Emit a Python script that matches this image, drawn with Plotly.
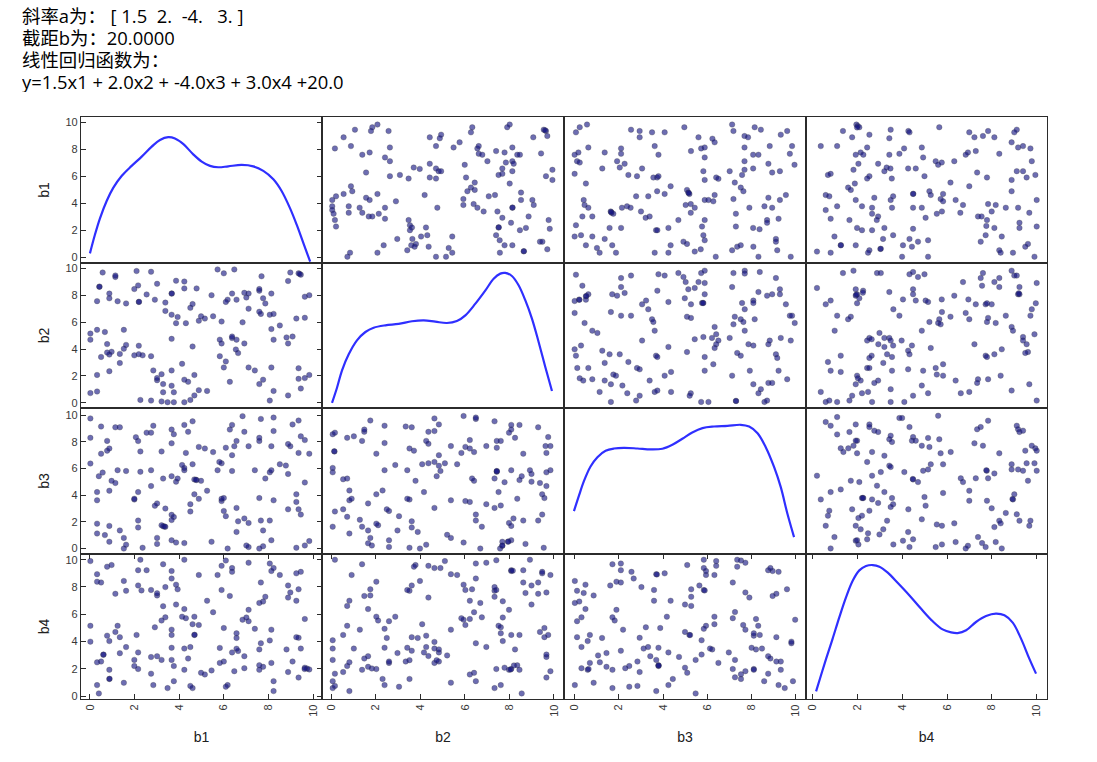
import plotly.graph_objects as go

names = ["b1", "b2", "b3", "b4"]
tick_vals = [0, 2, 4, 6, 8, 10]
header_lines = ["斜率a为： [ 1.5  2.  -4.   3. ]", "截距b为：20.0000", "线性回归函数为：", "y=1.5x1 + 2.0x2 + -4.0x3 + 3.0x4 +20.0"]

# scatter pairs
p12_b2 = [2.07,1.84,1.78,1.06,2.57,.55,.88,.16,2.63,1.39,1.72,2.41,2.63,1.56,2.63,3.08,3.47,3.70,3.97,4.42,4.70,4.82,4.93,4.42,4.70,4.42,4.93,4.87,4.70,5.49,5.76,6.33,6.27,6.56,6.62,6.62,6.78,7.01,5.99,6.05,6.44,6.27,6.11,6.44,5.93,5.93,6.39,6.56,6.84,7.07,7.35,4.19,2.90,2.07,1.56,1.72,.88,.94,.55,.21,.04,.04,.04,.10,.16,.21,.78,.78,1.27,1.39,1.68,1.84,2.13,2.41,2.41,4.76,3.47,3.53,3.62,3.53,4.25,4.31,4.03,2.96,3.64,3.80,3.59,3.74,3.41,2.35,2.07,.84,.72,4.37,5.43,5.27,5.43,5.15,4.70,8.01,7.90,7.40,7.78,8.13,8.35,8.47,9.42,9.07,9.54,9.64,9.70,9.93,9.64,9.93,8.13,7.84,8.19,7.68,7.68,7.51,8.13,8.01,8.52,8.52,9.03,9.09,8.13,7.46,7.68,8.07,8.86,9.76,9.81,8.74,8.47,7.51,7.40,7.56,7.78,8.13,7.57,8.64,9.37,9.48,9.70,8.14,7.52,8.65,9.60]
p12_b1 = [9.83,9.63,9.35,9.45,9.35,8.88,8.23,8.06,8.13,7.59,7.76,7.39,7.11,6.27,6.00,6.09,5.82,6.64,6.54,6.92,6.57,6.37,6.37,5.90,5.82,8.88,9.08,8.81,8.23,8.13,8.51,9.63,9.25,8.06,8.23,7.66,7.59,7.11,6.84,5.90,5.52,5.15,4.88,4.98,4.30,3.86,3.93,3.66,3.38,4.50,4.60,4.60,4.13,4.68,4.40,4.23,5.25,4.88,4.68,4.50,4.23,3.76,3.48,3.21,2.74,2.26,3.76,3.28,3.66,3.28,3.01,3.01,3.21,3.66,2.84,3.66,2.74,2.36,2.19,1.99,2.19,1.62,1.52,1.34,1.34,.97,.87,.77,.50,.87,.32,.32,.02,.77,1.52,.67,.32,.02,.02,9.83,9.63,7.86,7.76,8.13,7.59,7.59,7.69,8.88,9.45,9.35,8.98,6.47,6.00,5.72,7.11,7.01,6.92,6.57,6.17,6.09,6.37,5.45,4.78,4.23,4.23,3.86,3.66,3.38,2.91,2.54,3.01,2.74,2.09,2.16,1.99,2.19,1.62,1.24,.87,.87,.32,.42,1.14,1.14,.57,3.67,2.20,.43,9.40]

p13_b3 = [.56,.23,.06,.62,.17,0,.11,.23,0,1.25,1.36,2.10,2.10,1.92,2.26,2.04,2.43,2.82,3.05,2.55,2.94,2.94,3.50,4.07,3.62,3.79,4.96,5.60,6.23,6.33,5.26,5.72,5.88,5.88,5.82,5.88,3.56,3.73,3.79,4.34,3.73,4.07,3.33,2.78,5.08,5.14,5.19,6.40,6.50,6.33,5.88,6.05,6.27,5.02,5.25,5.43,5.25,4.69,5.88,5.76,5.82,5.88,4.92,5.08,5.70,5.43,6.38,4.34,4.24,3.62,4.24,3.68,3.74,3.39,3.21,3.00,2.53,2.37,2.14,1.63,1.67,1.75,.41,.45,.62,.51,.35,.80,.06,0,.29,.80,1.58,2.10,1.36,.51,1.01,1.13,1.70,1.87,7.12,7.18,7.68,7.84,8.14,8.42,9.32,9.61,9.83,9.73,9.94,8.82,7.68,8.07,8.31,7.68,8.76,7.68,8.07,7.57,7.01,7.24,8.93,9.28,7.51,7.63,7.18,8.76,9.55,9.28,8.58,8.93,7.90,7.29,8.70,8.70,9.22,7.29,8.07,8.36,9.10,9.10,9.16,8.08,8.31,9.77,7.12,7.35,7.51,1.65,5.16]
p13_b1 = [9.83,9.63,9.25,8.13,7.76,7.59,7.11,7.01,6.17,6.57,7.76,8.06,7.66,7.11,6.92,6.64,6.09,6.00,6.57,9.45,9.35,8.88,9.25,9.25,8.23,7.59,9.63,8.88,8.78,8.51,7.86,8.06,8.13,7.39,6.37,5.72,5.90,5.90,6.00,5.25,4.88,4.68,4.50,4.50,4.98,4.78,4.68,5.90,5.80,4.60,4.23,4.23,4.13,3.86,3.93,3.66,3.28,2.74,2.74,2.26,1.62,1.24,1.14,.97,.57,.40,.02,.87,.32,.32,2.16,1.99,1.99,3.01,2.91,3.38,3.66,3.76,3.66,3.38,3.28,3.21,4.23,3.86,3.66,5.45,3.01,3.01,2.36,1.52,1.62,1.52,2.16,2.16,1.34,.87,.67,.32,.87,.32,9.83,9.35,8.98,8.88,9.63,9.45,9.08,9.35,8.23,7.66,6.84,8.23,8.13,7.59,7.59,7.11,6.92,6.47,6.57,6.09,6.37,5.52,6.27,6.37,5.15,4.88,4.30,4.40,4.60,4.23,3.76,3.66,3.66,3.21,2.74,2.54,2.84,2.26,2.16,2.06,1.34,1.14,.50,.77,.02,.02,.50,.77,.87,3.34,4.75]

p14_b4 = [1.95,2.01,2.08,1.35,2.53,1.76,.36,1.09,2.43,2.14,1.92,2.26,2.04,1.82,.80,.68,2.53,2.43,1.88,1.58,1.70,.58,.74,1.92,2.75,1.09,.58,2.20,2.65,2.65,.80,1.64,2.92,2.86,1.98,2.20,2.65,3.20,.97,1.25,1.92,.19,.80,2.53,2.47,3.02,3.14,3.59,3.48,3.42,3.42,2.92,3.30,3.47,3.20,3.53,3.59,3.48,3.54,4.27,4.32,4.08,3.87,4.87,4.93,5.65,5.49,5.60,5.76,6.32,4.26,4.60,4.99,6.15,4.48,5.21,5.27,5.82,5.71,5.82,4.48,4.87,6.38,6.71,6.59,5.77,5.54,5.04,4.48,4.32,4.70,5.15,4.03,4.43,3.99,5.15,6.99,7.22,7.60,7.83,8.11,9.11,9.00,8.88,9.17,9.39,9.72,7.28,6.93,6.83,8.33,9.78,9.11,9.39,9.55,9.94,7.34,7.78,8.88,6.99,8.88,10.00,7.83,8.17,8.62,9.17,7.99,9.67,7.38,7.54,7.78,9.23,9.23,10.00,8.11,7.75,7.72,8.44,7.50,9.61,9.49,8.33,8.39,8.94,9.90,1.26,3.04,4.49,1.98]
p14_b1 = [9.83,9.73,9.63,9.35,9.08,8.88,8.23,8.23,8.13,7.76,7.59,7.59,6.92,6.47,6.17,6.09,6.00,5.82,5.45,5.15,4.98,4.60,4.50,4.23,4.40,3.76,3.48,3.76,3.66,3.21,2.84,2.74,3.01,2.74,2.16,1.99,1.99,2.16,1.52,.87,.87,.40,.32,.50,.32,.60,1.34,1.62,9.45,8.81,7.59,6.92,6.64,6.57,6.37,5.82,4.50,4.23,3.66,9.35,9.25,8.06,7.66,8.13,7.39,9.63,7.11,6.84,7.01,7.11,6.57,6.57,6.00,5.52,4.68,4.88,4.60,4.68,4.30,4.13,3.66,3.66,4.23,3.86,3.28,3.38,3.21,2.91,2.09,1.34,1.14,1.24,.87,.77,.02,.02,9.25,8.88,8.98,9.35,8.88,9.45,9.25,8.51,8.13,8.23,8.06,7.86,7.76,7.59,7.66,7.11,6.37,6.37,5.90,6.09,6.27,5.90,5.72,5.25,4.88,4.23,3.93,3.86,3.66,3.66,3.38,3.28,3.01,3.01,2.74,2.54,2.16,2.26,2.16,2.31,1.62,1.52,1.14,.97,.77,.50,.32,.32,.02,.88,.61,4.69,9.62]

p23_b3 = [.06,.35,0,.20,.51,.51,.62,0,.45,.80,1.03,2.10,2.55,2.10,2.26,1.70,1.92,1.64,2.10,2.55,3.05,3.23,3.33,3.79,4.07,3.74,4.24,3.50,3.56,3.62,3.05,4.24,4.69,4.92,5.02,5.14,5.43,5.60,5.72,5.88,5.88,5.88,4.98,5.26,5.76,5.82,5.08,5.26,6.33,6.40,6.21,6.50,6.40,6.33,5.82,5.43,5.08,5.88,6.27,5.88,3.68,3.74,4.36,4.07,3.39,2.82,2.94,2.43,2.04,1.58,1.25,1.36,1.75,1.87,1.36,1.64,2.16,1.13,2.38,2.94,2.78,1.64,0,.29,.06,.12,.62,.23,.39,.80,3.62,3.74,4.36,5.25,5.20,5.72,6.05,7.18,7.69,7.69,8.37,9.10,7.12,9.28,9.28,8.93,8.70,8.31,7.57,8.08,8.08,7.69,9.55,9.73,9.83,9.95,7.24,7.18,7.51,7.63,8.14,7.69,7.01,7.86,8.08,8.82,8.76,9.32,9.77,7.35,7.51,9.10,9.16,7.92,9.22,7.12,9.61,8.08,8.76,8.93,8.42,8.31,7.29,8.58,8.70,7.30,.22,.53,5.80]
p23_b2 = [9.54,8.72,7.58,7.68,7.68,7.93,8.08,6.69,5.94,5.37,5.20,9.29,9.47,8.62,8.18,8.08,7.98,6.76,6.49,6.49,7.33,7.61,6.96,9.57,9.47,8.35,7.51,6.22,6.02,5.37,4.63,4.16,9.66,9.37,8.99,8.45,8.55,8.99,9.66,9.84,8.92,8.08,7.78,7.33,7.43,7.43,6.41,6.32,5.65,5.10,4.83,4.63,4.36,4.08,4.90,4.73,3.78,3.41,2.87,2.39,3.51,3.41,2.30,2.02,1.65,2.59,2.49,3.04,3.61,3.61,3.88,2.97,2.10,2.02,1.65,1.38,1.28,.81,.71,.53,.16,.06,3.98,4.26,3.51,2.59,2.59,1.82,1.65,1.75,.81,.91,.81,.71,.53,.06,.06,9.66,9.84,9.62,9.74,9.29,8.62,8.45,8.08,8.08,7.98,8.25,7.43,7.61,7.43,6.96,7.33,6.49,6.49,5.94,6.41,5.84,6.22,6.02,6.22,5.37,4.83,4.36,4.26,4.63,4.36,4.83,4.63,3.71,3.51,3.61,3.34,2.39,2.39,2.02,1.75,1.38,1.48,1.48,1.01,.71,.14,.06,.16,.13,7.68,7.95,7.43]

p24_b4 = [.19,1.35,1.82,2.87,3.04,1.92,1.92,1.98,2.25,2.08,1.98,.80,.58,1.09,1.70,1.58,.98,3.42,4.03,3.60,3.87,2.98,2.53,2.43,2.63,3.20,3.42,3.48,2.93,3.20,3.59,3.97,4.43,4.26,4.32,3.32,3.54,2.63,2.53,1.25,.68,3.15,2.43,2.53,.80,1.25,3.54,4.26,1.98,2.02,2.14,2.92,2.75,1.92,.36,1.76,2.20,2.47,3.48,.58,.74,1.09,1.64,2.65,3.48,4.09,4.48,4.87,5.15,4.32,4.48,4.70,4.99,4.48,4.48,4.60,5.04,5.15,5.76,6.32,5.77,6.15,5.21,5.65,5.60,5.71,4.87,5.27,4.93,5.49,5.82,5.54,5.82,6.38,6.71,7.60,7.50,7.56,8.11,8.33,8.33,8.88,9.00,9.11,9.23,9.17,9.23,10.00,6.95,7.28,7.72,7.78,7.99,6.83,6.99,7.83,7.78,8.17,8.62,9.96,9.78,9.72,8.88,8.94,9.90,9.39,9.39,9.55,7.22,8.44,9.61,9.49,8.11,7.72,7.78,8.39,7.83,7.38,7.34,6.99,6.61,8.88,9.67,10.00,1.94,2.24,9.20]
p24_b2 = [8.55,9.66,9.84,9.66,9.66,8.45,7.98,8.08,8.35,7.78,7.41,7.61,7.33,6.49,6.41,6.22,5.37,8.25,7.70,6.96,6.49,5.20,4.83,4.63,4.73,4.83,4.83,4.63,4.36,4.16,4.26,4.63,4.26,3.88,3.61,3.61,3.41,3.51,3.34,3.51,3.04,2.97,2.59,2.59,2.39,2.30,2.39,2.49,2.02,1.82,1.65,1.65,1.48,1.38,.81,.53,.71,.81,1.01,.06,.16,.06,.16,.06,.06,.06,.53,1.28,.71,9.57,9.74,9.37,9.57,8.45,8.08,7.61,7.61,7.51,7.70,7.98,6.76,6.41,6.02,6.22,5.94,5.84,5.37,4.08,2.39,2.59,2.87,2.10,2.02,1.65,8.99,9.66,9.29,8.72,8.99,9.29,8.62,9.84,9.47,9.47,8.62,8.08,8.08,8.92,7.70,7.33,7.33,7.41,7.33,6.69,6.22,6.32,6.02,5.94,6.49,7.41,6.96,6.49,5.65,5.37,5.10,4.90,4.63,4.36,4.36,3.98,3.78,3.71,3.61,3.51,3.41,2.02,1.75,1.75,1.48,.81,.71,.91,1.38,.16,8.05,8.20,8.15]

p34_b4 = [1.09,.58,.80,1.92,2.53,2.53,2.75,2.92,1.64,1.09,1.98,1.92,3.42,3.48,3.54,1.82,1.59,1.25,1.37,1.98,2.65,3.20,2.43,3.42,3.48,3.04,2.65,.19,1.70,2.08,2.87,1.25,.80,3.20,.36,2.20,2.26,2.65,2.92,3.54,3.59,3.48,1.76,2.53,.74,.68,2.20,2.04,3.32,.58,1.92,2.14,3.15,2.47,2.98,.97,1.92,2.43,2.04,.80,3.60,3.87,3.99,4.32,4.48,4.43,4.60,5.15,4.87,5.21,5.65,5.60,5.71,6.16,5.82,5.27,5.15,4.93,4.09,4.48,4.70,5.82,4.99,5.04,4.27,4.87,5.54,5.77,6.32,4.26,4.48,4.03,4.32,5.49,5.77,6.38,7.83,7.50,7.34,7.22,7.60,8.33,9.11,9.17,9.23,9.39,9.78,9.94,10.00,9.49,8.88,8.88,9.17,9.39,9.55,9.90,10.00,9.61,7.77,8.11,7.83,7.28,6.61,6.71,6.99,6.99,7.78,7.99,9.00,8.94,8.62,9.11,9.23,9.72,9.67,8.33,8.39,8.11,7.38,7.56,7.72,8.17,8.44,6.93,6.83,4.47,7.75,1.98,2.23,8.92]
p34_b3 = [9.87,9.50,9.22,9.32,9.32,9.12,8.85,8.75,8.75,8.57,8.10,8.10,8.20,8.47,8.00,7.72,7.52,7.52,7.25,7.15,7.25,6.97,6.50,6.22,6.12,5.74,5.47,5.47,5.09,4.99,4.72,4.44,4.24,4.24,3.69,3.79,3.79,3.69,3.42,3.79,3.32,3.12,2.94,2.84,2.84,2.47,2.47,2.29,2.09,1.71,1.71,1.44,1.44,1.14,1.06,.86,.59,.69,.31,.01,.31,9.80,9.80,9.12,8.37,8.10,8.10,8.30,7.72,7.62,8.20,9.97,7.15,7.25,6.32,6.32,5.94,5.84,5.74,5.19,4.99,4.17,3.87,3.22,2.94,2.19,1.81,1.71,1.89,1.24,.69,.59,.11,.11,.31,.49,9.60,9.12,8.95,7.90,7.72,7.15,9.22,8.95,8.75,8.85,7.72,7.52,7.35,7.35,6.32,5.94,5.94,5.84,6.40,6.40,5.84,5.09,5.84,5.64,5.27,5.27,5.27,4.99,4.34,3.59,3.59,3.02,4.07,3.69,2.67,2.57,2.09,2.09,1.71,2.09,1.89,1.61,.86,.41,.11,.49,.01,.21,.01,5.22,5.88,.63,3.80,3.72]

# density curves
kde1_x = [0,.22,.45,.75,1.05,1.42,1.87,2.32,2.77,3.14,3.51,3.81,4.19,4.63,5.01,5.38,5.75,6.20,6.80,7.32,7.77,8.22,8.59,8.97,9.27,9.57,9.87]
kde1_y = [.27,1.63,2.87,4.16,5.15,6.01,6.76,7.45,8.19,8.69,8.89,8.79,8.37,7.62,7.08,6.76,6.66,6.73,6.83,6.73,6.39,5.77,4.90,3.61,2.38,1.01,-.35]
kde2_x = [.03,.25,.48,.78,1.15,1.53,1.90,2.43,3.02,3.62,4.15,4.67,5.19,5.64,6.02,6.47,6.92,7.29,7.59,7.81,8.11,8.41,8.71,9.01,9.31,9.61,9.91]
kde2_y = [-.01,1.10,2.42,3.61,4.65,5.27,5.59,5.77,5.87,6.07,6.14,6.04,5.94,6.09,6.51,7.38,8.37,9.24,9.62,9.67,9.44,8.75,7.64,6.27,4.53,2.67,.88]
kde3_x = [-.03,.20,.42,.72,1.03,1.40,1.78,2.23,2.84,3.44,3.97,4.42,4.87,5.32,5.78,6.30,6.91,7.51,7.89,8.27,8.64,9.02,9.32,9.62,9.92]
kde3_y = [2.81,3.99,5.06,6.16,6.86,7.34,7.51,7.56,7.51,7.44,7.49,7.79,8.24,8.71,9.04,9.16,9.21,9.29,9.16,8.66,7.61,6.11,4.61,2.61,.86]
kde4_x = [.15,.37,.60,.89,1.19,1.49,1.79,2.08,2.38,2.68,2.98,3.35,3.79,4.32,4.84,5.36,5.80,6.18,6.47,6.85,7.29,7.74,8.18,8.56,8.93,9.30,9.67,9.97]
kde4_y = [.34,1.52,2.74,4.21,5.79,7.26,8.48,9.22,9.54,9.61,9.49,9.05,8.31,7.38,6.40,5.48,4.89,4.67,4.62,4.82,5.43,5.87,6.04,5.92,5.38,4.21,2.74,1.64]

pairs = {
    (0, 1): (p12_b2, p12_b1), (0, 2): (p13_b3, p13_b1), (0, 3): (p14_b4, p14_b1),
    (1, 2): (p23_b3, p23_b2), (1, 3): (p24_b4, p24_b2), (2, 3): (p34_b4, p34_b3),
}
curves = [(kde1_x, kde1_y), (kde2_x, kde2_y), (kde3_x, kde3_y), (kde4_x, kde4_y)]

# layout in window pixels
W, H = 1097, 762
col_edges = [81, 322, 564, 806, 1047]
row_edges = [117, 263, 408, 554, 699]
x_ranges = [[-.40, 10.40], [-.42, 10.45], [-.48, 10.46], [-.30, 10.46]]
y_ranges = [[-.445, 10.39], [-.39, 10.41], [-.41, 10.55], [-.22, 10.42]]

FRAME = "#2b2b2b"
TICKFONT = dict(family="Liberation Sans, Arial, sans-serif", size=11, color="#383838")
TITLEFONT = dict(family="Liberation Sans, Arial, sans-serif", size=14, color="#202020")

fig = go.Figure()
layout = {}
for r in range(4):
    for c in range(4):
        n = r * 4 + c + 1
        xid, yid = f"x{n}", f"y{n}"
        xkey, ykey = f"xaxis{n}", f"yaxis{n}"
        layout[xkey] = dict(
            domain=[col_edges[c] / W, col_edges[c + 1] / W],
            range=x_ranges[c], anchor=yid, showgrid=False, zeroline=False,
            showline=True, linecolor=FRAME, linewidth=1.2, mirror="allticks" if r == 3 else True,
            tickmode="array", tickvals=tick_vals, ticks="inside" if r == 3 else "",
            ticklen=5, tickwidth=1, tickcolor=FRAME,
            showticklabels=r == 3, tickangle=-90, tickfont=TICKFONT,
        )
        layout[ykey] = dict(
            domain=[1 - row_edges[r + 1] / H, 1 - row_edges[r] / H],
            range=y_ranges[r], anchor=xid, showgrid=False, zeroline=False,
            showline=True, linecolor=FRAME, linewidth=1.2, mirror="allticks" if c == 0 else True,
            tickmode="array", tickvals=tick_vals, ticks="inside" if c == 0 else "",
            ticklen=5, tickwidth=1, tickcolor=FRAME,
            showticklabels=c == 0, tickfont=TICKFONT,
        )
        if r == 3:
            layout[xkey]["title"] = dict(text=names[c], font=TITLEFONT, standoff=16)
        if c == 0:
            layout[ykey]["title"] = dict(text=names[r], font=TITLEFONT, standoff=12)
        if r == c:
            xs, ys = curves[r]
            fig.add_trace(go.Scatter(x=xs, y=ys, mode="lines", xaxis=xid, yaxis=yid,
                                     line=dict(color="#2f2fff", width=2.2, shape="spline", smoothing=1),
                                     showlegend=False, hoverinfo="skip"))
        else:
            if r < c:
                xs, ys = pairs[(r, c)]
            else:
                ys, xs = pairs[(c, r)]
            fig.add_trace(go.Scatter(x=xs, y=ys, mode="markers", xaxis=xid, yaxis=yid,
                                     marker=dict(size=5.5, color="rgba(20,20,130,0.62)",
                                                 line=dict(color="rgba(60,60,60,0.28)", width=1)),
                                     showlegend=False, hoverinfo="skip"))

annotations = []
for i, line in enumerate(header_lines):
    annotations.append(dict(
        text=line, xref="paper", yref="paper", x=21 / W, y=1 - (15.5 + i * 22) / H,
        xanchor="left", yanchor="middle", showarrow=False, align="left", valign="middle",
        height=21, borderpad=0,
        font=dict(family="Open Sans, Noto Sans CJK SC, sans-serif", size=18.4, color="#000000"),
    ))

fig.update_layout(
    width=W, height=H, margin=dict(l=0, r=0, t=0, b=0, autoexpand=False),
    paper_bgcolor="white", plot_bgcolor="white", showlegend=False,
    annotations=annotations, **layout,
)
fig.write_html("out.html", config={"displayModeBar": False},
               post_script="document.body.style.margin='0';document.body.style.overflow='hidden';")
